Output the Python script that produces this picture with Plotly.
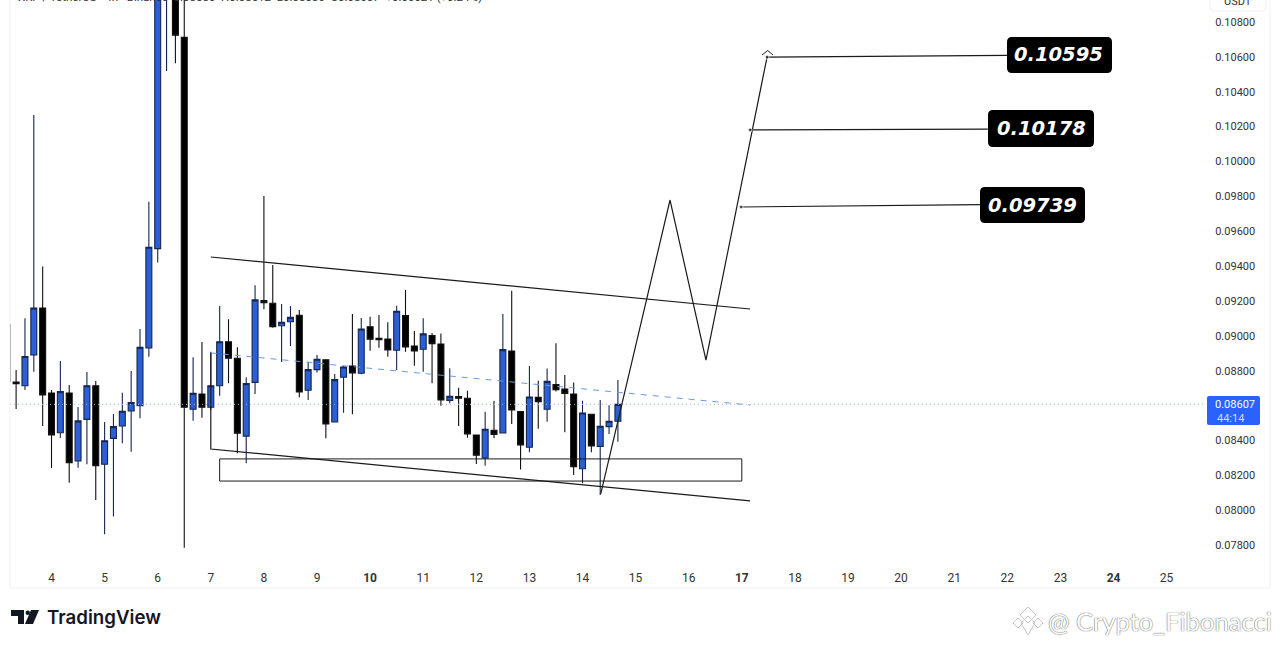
import plotly.graph_objects as go

# 4h candles, x is the bar number (bar 4 is the 00:00 bar of day 4)
bar_no = list(range(69))
opens  = [0.08735, 0.08714, 0.08890, 0.09160, 0.08672, 0.08444, 0.08672, 0.08282, 0.08521, 0.08714,
          0.08263, 0.08412, 0.08483, 0.08569, 0.08599, 0.08930, 0.09500, 0.11250, 0.11350, 0.10712,
          0.08579, 0.08666, 0.08590, 0.08714, 0.08966, 0.08871, 0.08425, 0.08733, 0.09202, 0.09187,
          0.09058, 0.09081, 0.09118, 0.08688, 0.08806, 0.08863, 0.08506, 0.08762, 0.08827, 0.08785,
          0.09052, 0.08986, 0.08982, 0.08917, 0.09116, 0.08942, 0.08923, 0.09001, 0.08953, 0.08630,
          0.08651, 0.08642, 0.08431, 0.08299, 0.08458, 0.08443, 0.08913, 0.08565, 0.08361, 0.08647,
          0.08579, 0.08720, 0.08695, 0.08666, 0.08238, 0.08550, 0.08366, 0.08479, 0.08510]
highs  = [0.08804, 0.09101, 0.10267, 0.09397, 0.08689, 0.08856, 0.08718, 0.08592, 0.08793, 0.08741,
          0.08506, 0.08552, 0.08674, 0.08798, 0.09039, 0.09769, 0.11300, 0.11600, 0.11500, 0.11200,
          0.08877, 0.08965, 0.08909, 0.09171, 0.09095, 0.08934, 0.08762, 0.09290, 0.09802, 0.09406,
          0.09183, 0.09171, 0.09148, 0.08852, 0.08890, 0.08863, 0.08781, 0.08827, 0.09125, 0.09102,
          0.09110, 0.09120, 0.09078, 0.09173, 0.09263, 0.09028, 0.09101, 0.09016, 0.09014, 0.08814,
          0.08702, 0.08685, 0.08431, 0.08565, 0.08626, 0.09125, 0.09259, 0.08565, 0.08827, 0.08743,
          0.08812, 0.08957, 0.08775, 0.08733, 0.08628, 0.08550, 0.08632, 0.08602, 0.08747]
lows   = [0.08580, 0.08689, 0.08794, 0.08483, 0.08242, 0.08414, 0.08158, 0.08244, 0.08263, 0.08058,
          0.07862, 0.07963, 0.08384, 0.08335, 0.08527, 0.08880, 0.09420, 0.10519, 0.10563, 0.07785,
          0.08513, 0.08530, 0.08575, 0.08657, 0.08728, 0.08326, 0.08269, 0.08666, 0.09152, 0.09047,
          0.08850, 0.08942, 0.08647, 0.08632, 0.08789, 0.08412, 0.08506, 0.08559, 0.08550, 0.08779,
          0.08915, 0.08932, 0.08880, 0.08804, 0.08909, 0.08829, 0.08794, 0.08728, 0.08599, 0.08613,
          0.08483, 0.08416, 0.08265, 0.08255, 0.08412, 0.08443, 0.08494, 0.08234, 0.08332, 0.08467,
          0.08507, 0.08680, 0.08447, 0.08202, 0.08154, 0.08332, 0.08087, 0.08437, 0.08393]
closes = [0.08726, 0.08881, 0.09160, 0.08661, 0.08431, 0.08680, 0.08272, 0.08512, 0.08714, 0.08255,
          0.08398, 0.08479, 0.08567, 0.08617, 0.08934, 0.09508, 0.11150, 0.11350, 0.10724, 0.08590,
          0.08670, 0.08590, 0.08714, 0.08966, 0.08871, 0.08441, 0.08726, 0.09206, 0.09190, 0.09052,
          0.09078, 0.09106, 0.08678, 0.08806, 0.08866, 0.08494, 0.08749, 0.08821, 0.08787, 0.09039,
          0.08980, 0.08978, 0.08919, 0.09141, 0.08936, 0.08913, 0.09011, 0.08955, 0.08632, 0.08653,
          0.08642, 0.08437, 0.08315, 0.08464, 0.08435, 0.08921, 0.08575, 0.08374, 0.08649, 0.08622,
          0.08739, 0.08691, 0.08670, 0.08249, 0.08557, 0.08368, 0.08481, 0.08510, 0.08607]

# wick of the bar cut by the left edge
cut_wick_x = [-0.65, -0.65]
cut_wick_y = [0.08735, 0.09068]

last_price = 0.08607

# drawings on the chart
channel_top_x = [22, 82.93]
channel_top_y = [0.09452, 0.09154]
channel_mid_x = [22, 82.93]
channel_mid_y = [0.08902, 0.08603]
channel_low_x = [22, 22, 82.93]
channel_low_y = [0.08902, 0.08351, 0.08053]
zone_x = [23, 82]
zone_y = [0.08167, 0.08294]
path_x = [66.06, 73.89, 77.95, 84.85]
path_y = [0.08093, 0.09779, 0.08861, 0.10599]

target_names = ['0.10595', '0.10178', '0.09739']
target_start_x = [84.85, 82.93, 81.91]
target_start_y = [0.10599, 0.10181, 0.09739]
target_end_x = [111.96, 109.8, 108.9]
target_end_y = [0.10609, 0.10186, 0.09753]

price_ticks = [0.108, 0.106, 0.104, 0.102, 0.100, 0.098, 0.096, 0.094, 0.092, 0.090, 0.088, 0.084, 0.082, 0.080, 0.078]
price_labels = ['0.10800', '0.10600', '0.10400', '0.10200', '0.10000', '0.09800', '0.09600', '0.09400',
                '0.09200', '0.09000', '0.08800', '0.08400', '0.08200', '0.08000', '0.07800']
day_ticks = [4, 10, 16, 22, 28, 34, 40, 46, 52, 58, 64, 70, 76, 82, 88, 94, 100, 106, 112, 118, 124, 130]
day_labels = ['4', '5', '6', '7', '8', '9', '<b>10</b>', '11', '12', '13', '14', '15', '16', '<b>17</b>',
              '18', '19', '20', '21', '22', '23', '<b>24</b>', '25']

W, H = 1280, 646
LINE = '#1a1a1a'


def px(x):
    return x / W


def py(y):
    return 1 - y / H


def round_box(x0, y0, x1, y1, r):
    # rounded rectangle in page pixels, written as a paper path
    pts = 'M%f,%f L%f,%f Q%f,%f %f,%f L%f,%f Q%f,%f %f,%f L%f,%f Q%f,%f %f,%f L%f,%f Q%f,%f %f,%f Z' % (
        px(x0 + r), py(y0), px(x1 - r), py(y0), px(x1), py(y0), px(x1), py(y0 + r),
        px(x1), py(y1 - r), px(x1), py(y1), px(x1 - r), py(y1),
        px(x0 + r), py(y1), px(x0), py(y1), px(x0), py(y1 - r),
        px(x0), py(y0 + r), px(x0), py(y0), px(x0 + r), py(y0))
    return pts


def poly(points, close=True):
    s = 'M' + ' L'.join('%f,%f' % (px(a), py(b)) for a, b in points)
    return s + (' Z' if close else '')


def paper_shape(path, fill=None, line=None, width=1):
    return dict(type='path', xref='paper', yref='paper', path=path,
                fillcolor=fill if fill else 'rgba(0,0,0,0)',
                line=dict(color=line if line else 'rgba(0,0,0,0)', width=width))


def label(x, y, text, size, color, anchor='center', family='Roboto', **font_kw):
    return dict(xref='paper', yref='paper', x=px(x), y=py(y), text=text, showarrow=False,
                xanchor=anchor, yanchor='middle', borderpad=0,
                font=dict(family=family, size=size, color=color, **font_kw))


fig = go.Figure()

fig.add_trace(go.Scatter(x=[-0.69, 134.45], y=[last_price, last_price], mode='lines',
                         line=dict(color='#9db4ea', width=1, dash='1px,3px')))
fig.add_trace(go.Scatter(x=channel_mid_x, y=channel_mid_y, mode='lines',
                         line=dict(color='#6a9ade', width=1, dash='6px,6px')))
fig.add_trace(go.Scatter(x=cut_wick_x, y=cut_wick_y, mode='lines', line=dict(color='#777777', width=1)))

fig.add_trace(go.Candlestick(
    x=bar_no, open=opens, high=highs, low=lows, close=closes, whiskerwidth=0,
    increasing=dict(fillcolor='#2a5fd6', line=dict(color='#17264f', width=1.1)),
    decreasing=dict(fillcolor='#000000', line=dict(color='#111111', width=1.1)),
))

for xs, ys in [(channel_top_x, channel_top_y), (channel_low_x, channel_low_y), (path_x, path_y)]:
    fig.add_trace(go.Scatter(x=xs, y=ys, mode='lines', line=dict(color=LINE, width=1.2)))

for i in range(len(target_names)):
    fig.add_trace(go.Scatter(x=[target_start_x[i], target_end_x[i]], y=[target_start_y[i], target_end_y[i]],
                             mode='lines+markers', line=dict(color=LINE, width=1.2),
                             marker=dict(color=LINE, size=[4, 0])))

shapes = [
    dict(type='rect', xref='x', yref='y', x0=zone_x[0], x1=zone_x[1], y0=zone_y[0], y1=zone_y[1],
         line=dict(color=LINE, width=1), fillcolor='rgba(0,0,0,0)'),
    paper_shape(poly([(762, 55), (767.7, 50.5), (773, 55)], close=False), line=LINE, width=1),
    # frame of the chart
    paper_shape(poly([(10, 0), (10, 588), (1270, 588), (1270, 0)], close=False), line='#f0f1f3', width=1),
    # price badge and currency box
    paper_shape(round_box(1207, 396, 1260, 425, 2), fill='#2962ff'),
    paper_shape(round_box(1210, -8, 1266, 11, 4), line='#eceef1'),
    # target boxes
    paper_shape(round_box(1007, 37, 1112, 73, 5), fill='#000000'),
    paper_shape(round_box(988, 110, 1094, 147, 5), fill='#000000'),
    paper_shape(round_box(980, 187, 1085, 223, 5), fill='#000000'),
    # TradingView logo
    paper_shape(poly([(11, 610), (24, 610), (24, 624), (18, 624), (18, 616), (11, 616)]), fill='#131722'),
    paper_shape(poly([(31, 610), (39, 610), (33, 624), (25, 624)]), fill='#131722'),
    dict(type='circle', xref='paper', yref='paper', x0=px(25.5), x1=px(30), y0=py(615), y1=py(610.5),
         fillcolor='#131722', line=dict(width=0)),
    # watermark diamond
    paper_shape(poly([(1028, 607), (1036, 615), (1028, 623), (1020, 615)]), line='#c8c8c8'),
    paper_shape(poly([(1028, 616), (1035, 623), (1028, 635), (1021, 623)]), line='#c8c8c8'),
    paper_shape(poly([(1018, 618), (1023, 623), (1018, 628), (1013, 623)]), line='#c8c8c8'),
    paper_shape(poly([(1038, 618), (1043, 623), (1038, 628), (1033, 623)]), line='#c8c8c8'),
]

annotations = [
    label(17, -3, 'XRP / TetherUS · 4h · Binance  0.08586  H0.08612  L0.08586  C0.08607  +0.00021 (+0.24%)',
          11.5, '#333333', anchor='left'),
    label(1238, 1, 'USDT', 11, '#333333'),
    label(1235, 404, '0.08607', 11, '#ffffff'),
    label(1230, 418, '44:14', 11, '#cfdcff'),
    label(1058.5, 55, target_names[0], 19.5, '#ffffff', family='DejaVu Sans', weight='bold', style='italic'),
    label(1041, 128, target_names[1], 19.5, '#ffffff', family='DejaVu Sans', weight='bold', style='italic'),
    label(1032, 205, target_names[2], 19.5, '#ffffff', family='DejaVu Sans', weight='bold', style='italic'),
    label(46, 617, 'TradingView', 18.7, '#131722', anchor='left', family='Inter', weight=600),
    label(1047, 621, '@ Crypto_Fibonacci', 25.6, '#ffffff', anchor='left', family='Lato',
          shadow='0 0 1px #555555, 0 0 1px #777777'),
]

fig.update_layout(
    width=W, height=H, margin=dict(l=0, r=0, t=0, b=0), showlegend=False,
    paper_bgcolor='#ffffff', plot_bgcolor='#ffffff', boxgap=0.04,
    shapes=shapes, annotations=annotations,
    xaxis=dict(domain=[px(10), px(1206)], range=[-0.69, 134.45], rangeslider=dict(visible=False),
               showgrid=False, zeroline=False, showline=False, tickmode='array', tickvals=day_ticks,
               ticktext=day_labels, ticks='outside', ticklen=4, tickcolor='#ffffff',
               tickfont=dict(family='Roboto', size=12, color='#333333')),
    yaxis=dict(domain=[py(563), 1], range=[0.07697, 0.109262], side='right', showgrid=False,
               zeroline=False, showline=False, tickmode='array', tickvals=price_ticks,
               ticktext=price_labels, ticks='outside', ticklen=6, tickcolor='#ffffff',
               tickfont=dict(family='Roboto', size=11, color='#333333')),
)

fig.write_html("out.html", config=dict(displayModeBar=False), post_script="document.body.style.margin='0';")
